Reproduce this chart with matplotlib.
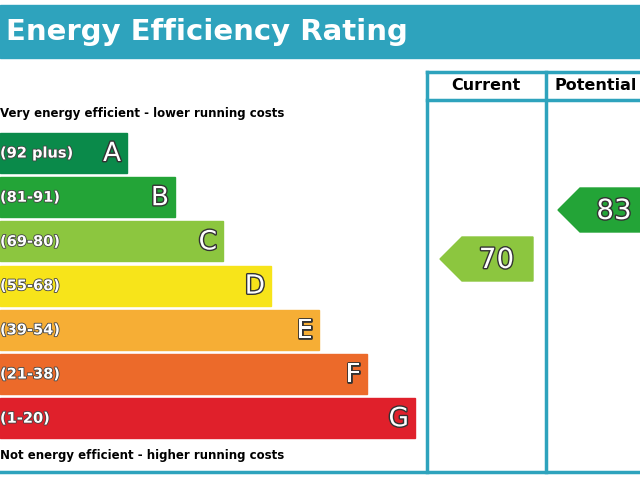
import matplotlib.pyplot as plt
import matplotlib.patheffects as pe
from matplotlib.patches import Polygon, Rectangle

letters = ["A", "B", "C", "D", "E", "F", "G"]
ranges = ["(92 plus)", "(81-91)", "(69-80)", "(55-68)", "(39-54)", "(21-38)", "(1-20)"]
lows = [92, 81, 69, 55, 39, 21, 1]
colors = ["#0a8a4a", "#23a437", "#8cc63f", "#f7e41a", "#f6ae35", "#ec6a2a", "#e0202b"]
current = 70
potential = 83

teal = "#2ea3bd"
outline = [pe.withStroke(linewidth=2, foreground="#333333")]
fig = plt.figure(figsize=(6.4, 4.8), dpi=100)
ax = fig.add_axes([0, 0, 1, 1])
ax.set_xlim(0, 640)
ax.set_ylim(480, 0)
ax.axis("off")

# header
ax.add_patch(Rectangle((0, 5), 640, 53, color=teal))
ax.text(6, 32, "Energy Efficiency Rating", color="white", fontsize=21, fontweight="bold", va="center")

# grid lines
for x in [427, 546]:
    ax.plot([x, x], [72, 472], color=teal, lw=2.5)
ax.plot([427, 640], [72, 72], color=teal, lw=2.5)
ax.plot([427, 640], [100, 100], color=teal, lw=2.5)
ax.plot([0, 640], [472, 472], color=teal, lw=2.5)
ax.text(486, 86, "Current", fontsize=11.5, fontweight="bold", ha="center", va="center")
ax.text(555, 86, "Potential", fontsize=11.5, fontweight="bold", ha="left", va="center")

ax.text(0, 113, "Very energy efficient - lower running costs", fontsize=8.5, fontweight="bold", va="center")
ax.text(0, 456, "Not energy efficient - higher running costs", fontsize=8.5, fontweight="bold", va="center")

top, step, h = 133, 44.2, 40
for i, (l, r, c) in enumerate(zip(letters, ranges, colors)):
    y = top + i * step
    w = 127 + i * 48
    ax.add_patch(Rectangle((0, y), w, h, color=c))
    ax.text(0, y + h / 2, r, fontsize=10.5, fontweight="bold", color="white", va="center",
            path_effects=[pe.withStroke(linewidth=1.2, foreground="#444444")])
    ax.text(w - 6, y + h / 2 + 1, l, fontsize=19, color="white", ha="right", va="center",
            path_effects=outline)

def band(v):
    for i, lo in enumerate(lows):
        if v >= lo:
            return i
    return len(lows) - 1

def arrow(x0, x1, v, yc):
    i = band(v)
    hh = 22
    pts = [(x0, yc), (x0 + 22, yc - hh), (x1, yc - hh), (x1, yc + hh), (x0 + 22, yc + hh)]
    ax.add_patch(Polygon(pts, color=colors[i]))
    ax.text((x0 + x1) / 2 + 10, yc + 1, str(v), fontsize=20, color="white", ha="center", va="center",
            path_effects=outline)

arrow(440, 533, current, 259)
arrow(558, 650, potential, 210)

fig.savefig("out.png")
